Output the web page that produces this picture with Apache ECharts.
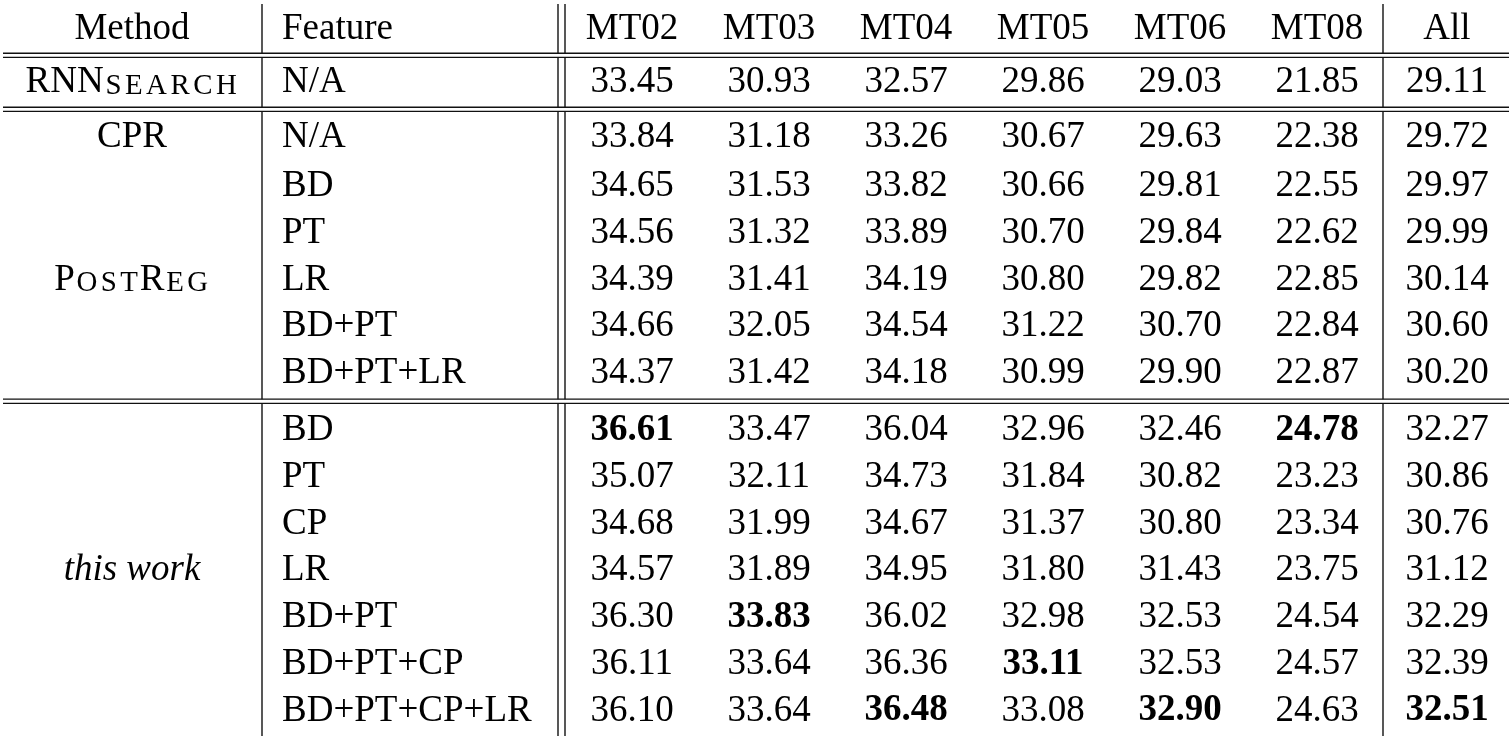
<!DOCTYPE html>
<html>
<head>
<meta charset="utf-8">
<script src="https://cdn.jsdelivr.net/npm/echarts@6/dist/echarts.min.js"></script>
<style>
html,body{margin:0;padding:0;background:#fff;}
#chart{width:1512px;height:739px;}
</style>
</head>
<body>
<div id="chart"></div>
<script>
// ---------- DATA ----------
const columns = ['Method', 'Feature', 'MT02', 'MT03', 'MT04', 'MT05', 'MT06', 'MT08', 'All'];
const methodNames = ['RNNsearch', 'CPR', 'PostReg', 'this work'];
const groupSizes = [1, 1, 5, 7];
const features = ['N/A', 'N/A', 'BD', 'PT', 'LR', 'BD+PT', 'BD+PT+LR',
  'BD', 'PT', 'CP', 'LR', 'BD+PT', 'BD+PT+CP', 'BD+PT+CP+LR'];
const mt02 = [33.45, 33.84, 34.65, 34.56, 34.39, 34.66, 34.37, 36.61, 35.07, 34.68, 34.57, 36.30, 36.11, 36.10];
const mt03 = [30.93, 31.18, 31.53, 31.32, 31.41, 32.05, 31.42, 33.47, 32.11, 31.99, 31.89, 33.83, 33.64, 33.64];
const mt04 = [32.57, 33.26, 33.82, 33.89, 34.19, 34.54, 34.18, 36.04, 34.73, 34.67, 34.95, 36.02, 36.36, 36.48];
const mt05 = [29.86, 30.67, 30.66, 30.70, 30.80, 31.22, 30.99, 32.96, 31.84, 31.37, 31.80, 32.98, 33.11, 33.08];
const mt06 = [29.03, 29.63, 29.81, 29.84, 29.82, 30.70, 29.90, 32.46, 30.82, 30.80, 31.43, 32.53, 32.53, 32.90];
const mt08 = [21.85, 22.38, 22.55, 22.62, 22.85, 22.84, 22.87, 24.78, 23.23, 23.34, 23.75, 24.54, 24.57, 24.63];
const allScores = [29.11, 29.72, 29.97, 29.99, 30.14, 30.60, 30.20, 32.27, 30.86, 30.76, 31.12, 32.29, 32.39, 32.51];
const valueColumns = [mt02, mt03, mt04, mt05, mt06, mt08, allScores];

// ---------- LAYOUT / STYLE ----------
const layout = {
  width: 1512, height: 739,
  font: 'Liberation Serif',
  fontSize: 37, smallCapsScale: 0.78, smallCapsSpacing: 3.5,
  textYOffset: 2.5,
  methodCenter: 132, featureLeft: 282,
  numFirstCenter: 632, numStep: 137, allCenter: 1447,
  headerY: 27, rowPitch: 46.7,
  groupGapBefore: [6.3, 8.3, 2.3, 10.6],
  ruleOffset: 1.8, doubleHalf: 2.1,
  vRules: [262, 558, 565, 1383],
  ruleLeft: 3, ruleRight: 1509, tableTop: 4, tableBottom: 736,
  methodStyles: ['smallcaps', 'normal', 'smallcaps', 'italic']
};

// row positions
const rowY = [];
{
  let y = layout.headerY;
  groupSizes.forEach((n, g) => {
    y += layout.groupGapBefore[g];
    for (let k = 0; k < n; k++) { y += layout.rowPitch; rowY.push(y); }
  });
}
const groupStart = [];
{ let s = 0; groupSizes.forEach(n => { groupStart.push(s); s += n; }); }

const numCenters = valueColumns.map((_, i) => i < 6 ? layout.numFirstCenter + i * layout.numStep : layout.allCenter);
const colMax = valueColumns.map(col => Math.max(...col));

// ---------- CELLS ----------
const cells = [];
cells.push({ x: layout.methodCenter, y: layout.headerY, text: columns[0], align: 'center' });
cells.push({ x: layout.featureLeft, y: layout.headerY, text: columns[1], align: 'left' });
columns.slice(2).forEach((c, i) => cells.push({ x: numCenters[i], y: layout.headerY, text: c, align: 'center' }));
methodNames.forEach((m, g) => {
  const a = groupStart[g], b = a + groupSizes[g] - 1;
  cells.push({ x: layout.methodCenter, y: (rowY[a] + rowY[b]) / 2, text: m, align: 'center', kind: layout.methodStyles[g] });
});
features.forEach((f, r) => {
  cells.push({ x: layout.featureLeft, y: rowY[r], text: f, align: 'left' });
  valueColumns.forEach((col, i) => {
    cells.push({ x: numCenters[i], y: rowY[r], text: col[r].toFixed(2), align: 'center', bold: col[r] === colMax[i] });
  });
});

// ---------- RULES ----------
const segments = [];
const breaks = [];
function addDouble(yA, yB) {
  const yc = (yA + yB) / 2 + layout.ruleOffset;
  [-1, 1].forEach(s => segments.push([layout.ruleLeft, yc + s * layout.doubleHalf, layout.ruleRight, yc + s * layout.doubleHalf]));
  breaks.push([yc - layout.doubleHalf, yc + layout.doubleHalf]);
}
addDouble(layout.headerY, rowY[0]);
addDouble(rowY[groupStart[1] - 1], rowY[groupStart[1]]);
addDouble(rowY[groupStart[3] - 1], rowY[groupStart[3]]);
layout.vRules.forEach(x => {
  let top = layout.tableTop;
  breaks.forEach(([b0, b1]) => { segments.push([x, top, x, b0]); top = b1; });
  segments.push([x, top, x, layout.tableBottom]);
});

// ---------- TEXT STYLE ----------
function styleFor(cell) {
  const fs = layout.fontSize;
  const base = { fontFamily: layout.font, fontSize: fs, fill: '#000' };
  if (cell.kind === 'smallcaps') {
    const tokens = [];
    cell.text.match(/[A-Z]+|[^A-Z]+/g).forEach(run => {
      if (/[A-Z]/.test(run[0])) tokens.push('{b|' + run + '}');
      else run.toUpperCase().split('').forEach(ch => tokens.push('{s|' + ch + '}'));
    });
    const sfs = fs * layout.smallCapsScale;
    return Object.assign(base, {
      text: tokens.join(''),
      rich: {
        b: { fontFamily: layout.font, fontSize: fs, lineHeight: fs, verticalAlign: 'bottom', fill: '#000' },
        s: { fontFamily: layout.font, fontSize: sfs, lineHeight: fs, verticalAlign: 'bottom', fill: '#000',
             padding: [0, layout.smallCapsSpacing / 2, 0, layout.smallCapsSpacing / 2] }
      }
    });
  }
  return Object.assign(base, {
    text: cell.text,
    fontStyle: cell.kind === 'italic' ? 'italic' : 'normal',
    fontWeight: cell.bold ? 'bold' : 'normal'
  });
}

const chart = echarts.init(document.getElementById('chart'), null, { renderer: 'canvas' });
chart.setOption({
  backgroundColor: '#fff',
  animation: false,
  grid: { left: 0, right: 0, top: 0, bottom: 0 },
  xAxis: { type: 'value', min: 0, max: layout.width, show: false },
  yAxis: { type: 'value', min: 0, max: layout.height, inverse: true, show: false },
  series: [
    {
      type: 'custom',
      coordinateSystem: 'cartesian2d',
      silent: true,
      clip: false,
      data: segments,
      encode: { x: [0, 2], y: [1, 3] },
      renderItem: function (params, api) {
        const s = segments[params.dataIndex];
        const p1 = api.coord([s[0], s[1]]);
        const p2 = api.coord([s[2], s[3]]);
        return {
          type: 'line',
          shape: { x1: p1[0], y1: p1[1], x2: p2[0], y2: p2[1] },
          style: { stroke: '#111', lineWidth: 1.4 }
        };
      }
    },
    {
      type: 'custom',
      coordinateSystem: 'cartesian2d',
      silent: true,
      clip: false,
      data: cells.map(c => [c.x, c.y]),
      encode: { x: 0, y: 1 },
      renderItem: function (params, api) {
        const c = cells[params.dataIndex];
        const p = api.coord([c.x, c.y + layout.textYOffset]);
        return {
          type: 'text',
          x: p[0], y: p[1],
          style: Object.assign(styleFor(c), { align: c.align, verticalAlign: 'middle' })
        };
      }
    }
  ]
});
</script>
</body>
</html>
